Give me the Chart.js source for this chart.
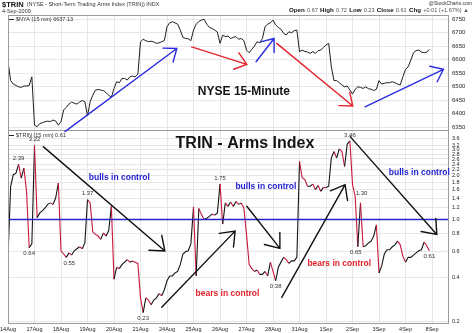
<!DOCTYPE html>
<html>
<head>
<meta charset="utf-8">
<script src="https://cdn.jsdelivr.net/npm/chart.js@4.4.0/dist/chart.umd.min.js"></script>
<style>
  html, body { margin: 0; padding: 0; background: #fff; }
  #wrap { position: relative; width: 474px; height: 333px; overflow: hidden; }
  #wrap canvas { position: absolute; left: 0; top: 0; }
</style>
</head>
<body>
<div id="wrap">
  <canvas id="trinChart" width="474" height="333"></canvas>
  <canvas id="nyseChart" width="474" height="333"></canvas>
</div>

<script>
// Trading days shown on the time axis (one gridline per session open)
const DAY_LABELS = ['14Aug', '17Aug', '18Aug', '19Aug', '20Aug', '21Aug', '24Aug', '25Aug',
                    '26Aug', '27Aug', '28Aug', '31Aug', '1Sep', '2Sep', '3Sep', '4Sep', '8Sep'];
const BARS_PER_DAY = 10;

const NYSE_TICKS = [6350, 6400, 6450, 6500, 6550, 6600, 6650, 6700, 6750];
const TRIN_TICKS = [0.2, 0.4, 0.6, 0.8, 1.0, 1.2, 1.4, 1.6, 1.8, 2.0, 2.2, 2.4, 2.6, 2.8, 3.0, 3.2, 3.6];

// NYSE Composite, intraday closes (10 per session)
const nyse = [
  6592, 6522, 6509, 6504, 6499, 6497, 6502, 6502, 6504, 6536,   // 14Aug
  6357, 6351, 6363, 6366, 6370, 6372, 6370, 6376, 6372, 6357,   // 17Aug
  6370, 6413, 6423, 6435, 6443, 6438, 6435, 6443, 6448, 6444,   // 18Aug
  6391, 6444, 6468, 6487, 6489, 6487, 6485, 6477, 6468, 6460,   // 19Aug
  6493, 6518, 6514, 6530, 6530, 6524, 6536, 6539, 6536, 6546,   // 20Aug
  6666, 6675, 6670, 6666, 6668, 6665, 6660, 6662, 6666, 6670,   // 21Aug
  6722, 6736, 6740, 6736, 6731, 6709, 6682, 6678, 6677, 6670,   // 24Aug
  6709, 6731, 6741, 6746, 6749, 6731, 6719, 6715, 6709, 6702,   // 25Aug
  6660, 6690, 6685, 6687, 6678, 6682, 6685, 6675, 6678, 6670,   // 26Aug
  6635, 6625, 6638, 6650, 6666, 6662, 6678, 6722, 6731, 6736,   // 27Aug
  6746, 6728, 6719, 6712, 6697, 6691, 6703, 6699, 6707, 6709,   // 28Aug
  6629, 6635, 6630, 6628, 6623, 6629, 6623, 6633, 6635, 6645,   // 31Aug
  6654, 6660, 6573, 6522, 6522, 6514, 6506, 6499, 6502, 6487,   // 1Sep
  6472, 6490, 6499, 6497, 6493, 6499, 6492, 6490, 6485, 6490,   // 2Sep
  6522, 6509, 6512, 6514, 6514, 6518, 6514, 6509, 6506, 6536,   // 3Sep
  6564, 6573, 6598, 6625, 6633, 6635, 6628, 6625, 6628, 6637.13 // 4Sep
];

// TRIN (Arms Index), intraday readings (10 per session)
const trin = [
  0.56, 1.69, 2.03, 2.08, 2.39, 1.92, 2.25, 1.56, 0.64, 0.68,   // 14Aug
  3.22, 1.03, 1.11, 1.15, 1.20, 1.27, 1.30, 1.27, 1.41, 1.78,   // 17Aug
  0.61, 0.58, 0.55, 0.59, 0.57, 0.61, 0.63, 0.65, 0.63, 0.69,   // 18Aug
  1.37, 1.30, 0.82, 0.79, 0.77, 0.73, 0.81, 0.77, 0.84, 1.23,   // 19Aug
  0.39, 0.47, 0.46, 0.49, 0.51, 0.53, 0.51, 0.52, 0.51, 0.50,   // 20Aug
  0.29, 0.23, 0.29, 0.28, 0.26, 0.28, 0.29, 0.31, 0.30, 0.33,   // 21Aug
  0.38, 0.41, 0.41, 0.43, 0.44, 0.49, 0.58, 0.60, 0.61, 0.68,   // 24Aug
  1.22, 0.41, 1.19, 1.08, 1.00, 1.02, 1.05, 1.09, 1.07, 1.11,   // 25Aug
  1.75, 0.93, 1.30, 1.23, 1.32, 1.23, 1.33, 1.27, 1.30, 1.20,   // 26Aug
  0.79, 0.49, 0.46, 0.44, 0.45, 0.42, 0.42, 0.44, 0.41, 0.51,   // 27Aug
  0.44, 0.38, 0.47, 0.51, 0.55, 0.53, 0.50, 0.52, 0.52, 0.55,   // 28Aug
  2.50, 1.93, 1.88, 1.69, 1.69, 1.75, 1.60, 1.71, 1.56, 1.66,   // 31Aug
  1.65, 1.69, 2.64, 2.93, 2.64, 3.05, 2.93, 2.31, 3.29, 3.46,   // 1Sep
  1.73, 1.44, 0.65, 1.30, 0.65, 0.66, 0.69, 0.71, 0.77, 0.92,   // 2Sep
  0.43, 0.48, 0.58, 0.62, 0.62, 0.65, 0.67, 0.71, 0.67, 0.56,   // 3Sep
  0.51, 0.55, 0.55, 0.57, 0.59, 0.61, 0.62, 0.70, 0.66, 0.61    // 4Sep
];

// Last-session quote summary shown in the header
const QUOTE = [['Open', '0.67'], ['High', '0.72'], ['Low', '0.23'], ['Close', null], ['Chg', '+0.01 (+1.67%) \u25B2']];

// Turning points that carry a value tag (bar index, side, pixel nudge)
const trinTags = [
  { i: 4,   side: -1 }, { i: 8,   side: 1 }, { i: 10,  side: -1 }, { i: 22, side: 1, dx: 3 },
  { i: 30,  side: -1 }, { i: 51,  side: 1 }, { i: 80,  side: -1 }, { i: 101, side: 1 },
  { i: 129, side: -1 }, { i: 132, side: 1, dx: -2 }, { i: 133, side: -1, dx: 1, dy: -4 },
  { i: 159, side: 1 }
];

// Trend arrows, in (session, value) units
const nyseArrows = [
  { c: '#2b2be0', from: [2.15, 6333], to: [6.37, 6641] },
  { c: '#e3232b', from: [6.93, 6647], to: [9.01, 6582] },
  { c: '#2b2be0', from: [9.36, 6592], to: [10.04, 6678] },
  { c: '#e3232b', from: [10.14, 6660], to: [13.01, 6428] },
  { c: '#2b2be0', from: [13.47, 6425], to: [16.43, 6564] }
];
const trinArrows = [
  { from: [1.33, 3.16], to: [5.92, 0.608] },
  { from: [5.80, 0.25], to: [8.57, 0.832] },
  { from: [9.01, 1.232], to: [10.26, 0.634] },
  { from: [10.33, 0.292], to: [12.72, 1.733] },
  { from: [12.91, 3.70], to: [16.18, 0.79] }
];
const trinNotes = [
  { text: 'bulls in control', c: '#1c1cd0', at: [4.20, 1.935] },
  { text: 'bulls in control', c: '#1c1cd0', at: [9.73, 1.672] },
  { text: 'bulls in control', c: '#1c1cd0', at: [15.52, 2.084] },
  { text: 'bears in control', c: '#e3232b', at: [8.28, 0.3076] },
  { text: 'bears in control', c: '#e3232b', at: [12.50, 0.497] }
];

const FONT = '"Liberation Sans", Arial, sans-serif';
const GRID = '#e6e6e6';
const FRAME = '#9c9c9c';
const X_MAX = 16.64;

const toPoints = arr => arr.map((v, i) => ({ x: i / BARS_PER_DAY, y: v }));

function fixBox(w, h) {
  return s => {
    if (w != null) s.width = w;
    if (h != null) s.height = h;
    s.paddingLeft = s.paddingRight = s.paddingTop = s.paddingBottom = 0;
  };
}

function drawArrow(ctx, x1, y1, x2, y2, color, head, width) {
  const a = Math.atan2(y2 - y1, x2 - x1);
  const spread = 38 * Math.PI / 180;
  ctx.save();
  ctx.strokeStyle = color;
  ctx.lineWidth = width;
  ctx.lineCap = 'round';
  ctx.beginPath();
  ctx.moveTo(x1, y1);
  ctx.lineTo(x2, y2);
  ctx.moveTo(x2 - head * Math.cos(a - spread), y2 - head * Math.sin(a - spread));
  ctx.lineTo(x2, y2);
  ctx.lineTo(x2 - head * Math.cos(a + spread), y2 - head * Math.sin(a + spread));
  ctx.stroke();
  ctx.restore();
}

function legendLine(ctx, x, y, text) {
  ctx.fillStyle = '#222';
  ctx.fillRect(x, Math.round(y), 5, 1);
  ctx.font = '5.5px ' + FONT;
  ctx.fillStyle = '#333';
  ctx.textAlign = 'left';
  ctx.textBaseline = 'middle';
  ctx.fillText(text, x + 7, y + 0.5);
}

const framePlugin = {
  id: 'frame',
  afterDraw(chart) {
    const { ctx, chartArea: a } = chart;
    ctx.save();
    ctx.strokeStyle = FRAME;
    ctx.lineWidth = 1;
    ctx.strokeRect(Math.round(a.left) + 0.5, Math.round(a.top) + 0.5,
                   Math.round(a.right - a.left) - 1, Math.round(a.bottom - a.top));
    ctx.restore();
  }
};

// Page header and panel legends
const headerPlugin = {
  id: 'header',
  afterDraw(chart) {
    const ctx = chart.ctx;
    ctx.save();
    ctx.textBaseline = 'middle';
    ctx.textAlign = 'left';
    ctx.fillStyle = '#111';
    ctx.font = 'bold 7.5px ' + FONT;
    ctx.fillText('$TRIN', 2, 4.5);
    const w = ctx.measureText('$TRIN ').width;
    ctx.font = '5.5px ' + FONT;
    ctx.fillStyle = '#333';
    ctx.fillText('(NYSE - Short-Term Trading Arms Index (TRIN)) INDX', 2 + w + 1, 4.8);
    ctx.fillText('4-Sep-2009', 2, 11);

    ctx.font = '5px ' + FONT;
    ctx.textAlign = 'right';
    ctx.fillText('@StockCharts.com', 472, 4);

    // quote summary, right-aligned
    const parts = [];
    QUOTE.forEach(([k, v]) => {
      parts.push({ t: k, f: 'bold 6.2px ' + FONT, c: '#111' });
      parts.push({ t: v == null ? trin[trin.length - 1].toFixed(2) : v, f: '5.6px ' + FONT, c: '#555' });
    });
    ctx.textAlign = 'left';
    let total = 0;
    parts.forEach(p => { ctx.font = p.f; p.w = ctx.measureText(p.t).width; total += p.w + 2.2; });
    let px = 471 - total;
    parts.forEach(p => {
      ctx.font = p.f;
      ctx.fillStyle = p.c;
      ctx.fillText(p.t, px, 10.5);
      px += p.w + 2.2;
    });

    legendLine(ctx, 9, 18.5, '$NYA (15 min) ' + nyse[nyse.length - 1].toFixed(2));
    legendLine(ctx, 9, 134.5, '$TRIN (15 min) ' + trin[trin.length - 1].toFixed(2));
    ctx.restore();
  }
};

const nyseOverlay = {
  id: 'nyseOverlay',
  afterDraw(chart) {
    const { ctx, scales: { x, y } } = chart;
    nyseArrows.forEach(ar => drawArrow(ctx,
      x.getPixelForValue(ar.from[0]), y.getPixelForValue(ar.from[1]),
      x.getPixelForValue(ar.to[0]), y.getPixelForValue(ar.to[1]), ar.c, 14, 1.4));
    ctx.save();
    ctx.font = 'bold 12px ' + FONT;
    ctx.fillStyle = '#141414';
    ctx.textAlign = 'center';
    ctx.textBaseline = 'middle';
    ctx.fillText('NYSE 15-Minute', x.getPixelForValue(8.9), y.getPixelForValue(6481));
    ctx.restore();
  }
};

const trinOverlay = {
  id: 'trinOverlay',
  afterDatasetsDraw(chart) {
    const { ctx, chartArea: a, scales: { y } } = chart;
    // neutral 1.0 reference line
    const y1 = Math.round(y.getPixelForValue(1.0)) + 0.5;
    ctx.save();
    ctx.strokeStyle = '#2424c8';
    ctx.lineWidth = 1.3;
    ctx.beginPath();
    ctx.moveTo(a.left, y1);
    ctx.lineTo(a.right, y1);
    ctx.stroke();
    ctx.restore();
  },
  afterDraw(chart) {
    const { ctx, scales: { x, y } } = chart;
    trinArrows.forEach(ar => drawArrow(ctx,
      x.getPixelForValue(ar.from[0]), y.getPixelForValue(ar.from[1]),
      x.getPixelForValue(ar.to[0]), y.getPixelForValue(ar.to[1]), '#111', 16, 1.4));

    ctx.save();
    ctx.textAlign = 'center';
    ctx.textBaseline = 'middle';
    ctx.font = 'bold 16px ' + FONT;
    ctx.fillStyle = '#141414';
    ctx.fillText('TRIN - Arms Index', x.getPixelForValue(8.94), y.getPixelForValue(3.30));

    ctx.font = 'bold 8.5px ' + FONT;
    trinNotes.forEach(n => {
      ctx.fillStyle = n.c;
      ctx.fillText(n.text, x.getPixelForValue(n.at[0]), y.getPixelForValue(n.at[1]));
    });

    ctx.font = '6px ' + FONT;
    ctx.fillStyle = '#333';
    trinTags.forEach(t => {
      const v = trin[t.i];
      const px = x.getPixelForValue(t.i / BARS_PER_DAY) + (t.dx || 0);
      const py = y.getPixelForValue(v) + t.side * 6 + (t.dy || 0);
      ctx.fillText(v.toFixed(2), px, py);
    });
    ctx.restore();
  }
};

const xCommon = {
  type: 'linear',
  min: 0,
  max: X_MAX,
  afterBuildTicks: s => { s.ticks = DAY_LABELS.map((_, i) => ({ value: i })); },
  grid: { color: GRID, drawTicks: false },
  border: { display: false }
};

// Upper panel: NYSE Composite
new Chart(document.getElementById('nyseChart'), {
  type: 'line',
  data: {
    datasets: [{
      data: toPoints(nyse),
      borderColor: '#1e1e1e',
      borderWidth: 1,
      pointRadius: 0,
      tension: 0
    }]
  },
  options: {
    responsive: false,
    animation: false,
    events: [],
    layout: { padding: { left: 8, top: 15, right: 0, bottom: 0 } },
    plugins: { legend: { display: false }, tooltip: { enabled: false } },
    scales: {
      x: Object.assign({}, xCommon, {
        ticks: { display: false },
        afterFit: fixBox(null, 203)
      }),
      y: {
        type: 'linear',
        position: 'right',
        min: 6339,
        max: 6765,
        afterBuildTicks: s => { s.ticks = NYSE_TICKS.map(v => ({ value: v })); },
        ticks: { autoSkip: false, padding: 3, color: '#222', font: { size: 6, family: FONT },
                 callback: v => String(v) },
        grid: { color: GRID, drawTicks: false },
        border: { display: false },
        afterFit: fixBox(25, null)
      }
    }
  },
  plugins: [framePlugin, nyseOverlay, headerPlugin]
});

// Lower panel: TRIN on a log scale, black on up-ticks, red on down-ticks
new Chart(document.getElementById('trinChart'), {
  type: 'line',
  data: {
    datasets: [{
      data: toPoints(trin),
      borderColor: '#111',
      borderWidth: 1.1,
      pointRadius: 0,
      tension: 0,
      segment: {
        borderColor: c => (c.p1.parsed.y >= c.p0.parsed.y ? '#151515' : '#c8163c')
      }
    }]
  },
  options: {
    responsive: false,
    animation: false,
    events: [],
    layout: { padding: { left: 8, top: 130, right: 0, bottom: 0 } },
    plugins: { legend: { display: false }, tooltip: { enabled: false } },
    scales: {
      x: Object.assign({}, xCommon, {
        ticks: { autoSkip: false, maxRotation: 0, padding: 3, color: '#222',
                 font: { size: 5.5, family: FONT },
                 callback: v => DAY_LABELS[v] },
        afterFit: fixBox(null, 10)
      }),
      y: {
        type: 'logarithmic',
        position: 'right',
        min: 0.195,
        max: 4.11,
        afterBuildTicks: s => { s.ticks = TRIN_TICKS.map(v => ({ value: v })); },
        ticks: { autoSkip: false, padding: 3, color: '#222', font: { size: 5.5, family: FONT },
                 callback: v => Number(v).toFixed(1) },
        grid: { color: GRID, drawTicks: false },
        border: { display: false },
        afterFit: fixBox(25, null)
      }
    }
  },
  plugins: [framePlugin, trinOverlay]
});
</script>
</body>
</html>
